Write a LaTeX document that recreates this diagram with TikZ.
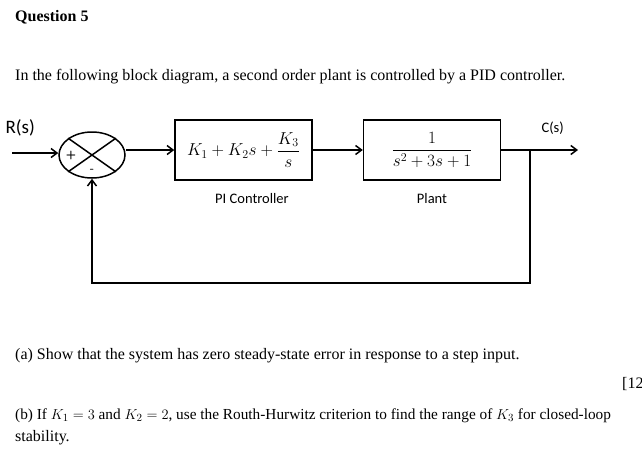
\documentclass[tikz,border=0pt]{standalone}
\usepackage{fontspec}
\usepackage{amsmath}
\setmainfont{Liberation Serif}
\newfontfamily\lab{Carlito}
\usetikzlibrary{shapes.geometric,arrows.meta}
\begin{document}
\begin{tikzpicture}[x=1pt,y=-1pt,
  blk/.style={draw,line width=1.5pt,minimum width=137pt,minimum height=60pt,inner sep=0,font=\fontsize{17}{20}\selectfont},
  ln/.style={line width=1.5pt},
  ar/.style={ln,-{Straight Barb[length=6pt,width=9pt]}},
  lbl/.style={font=\lab\fontsize{14.5}{16}\selectfont},
  txt/.style={anchor=base west,inner sep=0,font=\fontsize{16}{19}\selectfont}]
\useasboundingbox (0,0) rectangle (642,455);
\node[txt,font=\bfseries\fontsize{16}{19}\selectfont] (q) at (15,21) {Question 5};
\node[txt] (t1) at (15,80) {In the following block diagram, a second order plant is controlled by a PID controller.};
\node[draw,ellipse,ln,minimum width=66pt,minimum height=46pt,inner sep=0] (s) at (92,155) {};
\draw[ln] (s.north west) -- (s.south east) (s.north east) -- (s.south west);
\node[font=\sffamily\bfseries\large] (p) at (71,155) {+};
\node[font=\sffamily\bfseries\large] (m) at (92,171) {-};
\node[blk] (b1) at (243.5,150) {$\displaystyle K_1+K_2s+\frac{K_3}{s}$};
\node[blk] (b2) at (432,150) {$\displaystyle \frac{1}{s^2+3s+1}$};
\node[lbl] (l1) at (252,199) {PI Controller};
\node[lbl] (l2) at (432,199) {Plant};
\node[font=\lab\fontsize{19}{21}\selectfont,anchor=west] (r) at (2,128) {R(s)};
\node[lbl,anchor=west] (c) at (538,128) {C(s)};
\coordinate (in) at (12,153);
\coordinate (out) at (578,150);
\coordinate (fb) at (530,150);
\coordinate (fb1) at (530,283);
\coordinate (fb2) at (92,283);
\draw[ar] (in) -- (s.west |- in);
\draw[ar] (s.east |- b1) -- (b1.west);
\draw[ar] (b1.east) -- (b2.west);
\draw[ar] (b2.east) -- (out);
\draw[ar] (fb) -- (fb1) -- (fb2) -- (s.south);
\node[txt] (t2) at (15,359) {(a) Show that the system has zero steady-state error in response to a step input.};
\node[txt] (t3) at (622,388) {[12};
\node[txt,font=\fontsize{15.3}{19}\selectfont] (t4) at (15,419) {(b) If $K_1=3$ and $K_2=2$, use the Routh-Hurwitz criterion to find the range of $K_3$ for closed-loop};
\node[txt] (t5) at (15,441) {stability.};
\end{tikzpicture}
\end{document}
